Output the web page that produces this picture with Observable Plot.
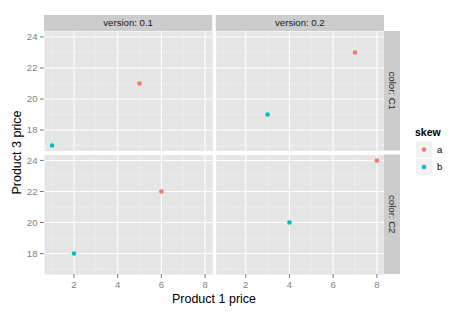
<!DOCTYPE html>
<html>
<head>
<meta charset="utf-8">
<script src="https://cdn.jsdelivr.net/npm/d3@7"></script>
<script src="https://cdn.jsdelivr.net/npm/@observablehq/plot@0.6"></script>
<style>
  html, body { margin: 0; padding: 0; background: white; }
</style>
</head>
<body>
<div id="chart"></div>
<script>
// ---- data ----
const versions = ["0.1", "0.2"];
const colorGroups = ["C1", "C2"];
const skewLevels = ["a", "b"];
const skewColors = ["#F8766D", "#00BFC4"];

const pointVersion = ["0.1", "0.1", "0.2", "0.2", "0.1", "0.1", "0.2", "0.2"];
const pointColor   = ["C1", "C1", "C1", "C1", "C2", "C2", "C2", "C2"];
const pointSkew    = ["a", "b", "a", "b", "a", "b", "a", "b"];
const product1     = [5, 1, 7, 3, 6, 2, 8, 4];
const product3     = [21, 17, 23, 19, 22, 18, 24, 20];

const xTicks = [2, 4, 6, 8];
const xMinor = [1, 3, 5, 7];
const yTicks = [18, 20, 22, 24];
const yMinor = [17, 19, 21, 23];
const xDomain = [0.65, 8.35];
const yDomain = [16.65, 24.35];

const points = product1.map((p, i) => ({
  version: pointVersion[i], color: pointColor[i], skew: pointSkew[i],
  p1: p, p3: product3[i]
}));

const W = 474, H = 316;
const mL = 44, mT = 31, mR = 90, mB = 42;
const font = "'Liberation Sans', Arial, Helvetica, sans-serif";

const plot = Plot.plot({
  width: W, height: H,
  marginLeft: mL, marginTop: mT, marginRight: mR, marginBottom: mB,
  style: { fontFamily: font, fontSize: "9.6px", background: "white", color: "#7F7F7F" },
  fx: { domain: versions, paddingInner: 0.0204, paddingOuter: 0, round: false, axis: null },
  fy: { domain: colorGroups, paddingInner: 0.0324, paddingOuter: 0, round: false, axis: null },
  x: { domain: xDomain, label: null },
  y: { domain: yDomain, label: null },
  color: { domain: skewLevels, range: skewColors },
  marks: [
    Plot.frame({ fill: "#E5E5E5", stroke: null }),
    Plot.ruleX(xMinor, { stroke: "#F2F2F2", strokeWidth: 0.6 }),
    Plot.ruleY(yMinor, { stroke: "#F2F2F2", strokeWidth: 0.6 }),
    Plot.ruleX(xTicks, { stroke: "white", strokeWidth: 1.1 }),
    Plot.ruleY(yTicks, { stroke: "white", strokeWidth: 1.1 }),
    Plot.axisX({ ticks: xTicks, tickSize: 4, tickPadding: 3, color: "#7F7F7F", label: null, fontSize: 9.6 }),
    Plot.axisY({ ticks: yTicks, tickSize: 4, tickPadding: 3, color: "#7F7F7F", label: null, fontSize: 9.6 }),
    Plot.dot(points, { x: "p1", y: "p3", fx: "version", fy: "color", fill: "skew", r: 2.3, stroke: null })
  ]
});

document.getElementById("chart").appendChild(plot);

// ---- strips, axis titles and legend, positioned with Plot's own scales ----
const svg = d3.select(plot);
const fx = plot.scale("fx"), fy = plot.scale("fy");
const fxBand = fx.bandwidth, fyBand = fy.bandwidth;
const stripH = 16;

const g = svg.append("g").attr("font-family", font).attr("text-anchor", "start");

versions.forEach(v => {
  const x0 = fx.apply(v);
  g.append("rect").attr("x", x0).attr("y", mT - stripH).attr("width", fxBand).attr("height", stripH).attr("fill", "#CCCCCC");
  g.append("text").attr("x", x0 + fxBand / 2).attr("y", mT - stripH / 2).attr("dy", "0.35em")
    .attr("text-anchor", "middle").attr("font-size", 9.6).attr("fill", "#1A1A1A").text("version: " + v);
});

const panelRight = W - mR;
colorGroups.forEach(c => {
  const y0 = fy.apply(c);
  g.append("rect").attr("x", panelRight).attr("y", y0).attr("width", stripH).attr("height", fyBand).attr("fill", "#CCCCCC");
  g.append("text").attr("transform", `translate(${panelRight + stripH / 2},${y0 + fyBand / 2}) rotate(90)`)
    .attr("dy", "0.35em").attr("text-anchor", "middle").attr("font-size", 9.6).attr("fill", "#1A1A1A").text("color: " + c);
});

// axis titles
g.append("text").attr("x", (mL + panelRight) / 2).attr("y", 303).attr("text-anchor", "middle")
  .attr("font-size", 12.5).attr("fill", "black").text("Product 1 price");
g.append("text").attr("transform", `translate(21,${(mT + H - mB) / 2}) rotate(-90)`).attr("text-anchor", "middle")
  .attr("font-size", 12.5).attr("fill", "black").text("Product 3 price");

// legend
const colorScale = plot.scale("color");
g.append("text").attr("x", 415).attr("y", 136).attr("text-anchor", "start").attr("font-size", 10.5).attr("font-weight", "bold")
  .attr("fill", "black").text("skew");
skewLevels.forEach((s, i) => {
  const ky = 141 + i * 17.5;
  g.append("rect").attr("x", 415.5).attr("y", ky).attr("width", 17).attr("height", 17)
    .attr("fill", "#F2F2F2").attr("stroke", "white").attr("stroke-width", 0.5);
  g.append("circle").attr("cx", 424).attr("cy", ky + 8.5).attr("r", 2.3).attr("fill", colorScale.apply(s));
  g.append("text").attr("x", 437).attr("y", ky + 8.5).attr("dy", "0.35em").attr("text-anchor", "start").attr("font-size", 9.6)
    .attr("fill", "black").text(s);
});
</script>
</body>
</html>
